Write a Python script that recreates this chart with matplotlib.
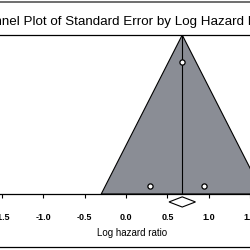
import matplotlib
matplotlib.use("Agg")
import matplotlib.pyplot as plt
from matplotlib.lines import Line2D

plt.rcParams['font.family'] = ['Liberation Sans', 'DejaVu Sans']

# study estimates
log_hr = [0.29, 0.94, 0.68]
std_err = [0.475, 0.475, 0.085]

# pooled estimate and its 95% CI
pooled = 0.68
pooled_lo = 0.52
pooled_hi = 0.84

se_max = 0.5
xticks = [-1.5, -1.0, -0.5, 0.0, 0.5, 1.0, 1.5]
xtick_labels = ["-1.5", "-1.0", "-0.5", "0.0", "0.5", "1.0", "1.5"]

fig = plt.figure(figsize=(2.5, 2.5), dpi=100)
ax = fig.add_axes([0, 0.224, 1, 0.636])

# funnel
ax.fill([pooled - 1.96 * se_max, pooled, pooled + 1.96 * se_max],
        [se_max, 0, se_max], facecolor='#8a8d95', edgecolor='black', lw=0.8)
ax.plot([pooled, pooled], [0, se_max], color='black', lw=0.8)

ax.scatter(log_hr, std_err, s=14, facecolor='white', edgecolor='black',
           linewidth=0.9, zorder=3)

# pooled diamond below the axis
dy = 0.016
ax.fill([pooled_lo, pooled, pooled_hi, pooled],
        [se_max + 0.025, se_max + 0.025 - dy, se_max + 0.025, se_max + 0.025 + dy],
        facecolor='white', edgecolor='black', lw=0.8, clip_on=False, zorder=4)

ax.set_xlim(-1.525, 1.477)
ax.set_ylim(se_max, 0)
ax.set_yticks([])
ax.set_xticks(xticks)
ax.set_xticklabels(xtick_labels, fontsize=6.5, fontweight='bold')
ax.tick_params(axis='x', direction='out', length=3, width=0.8, pad=11)
for s in ['left', 'right', 'top']:
    ax.spines[s].set_visible(False)
ax.spines['bottom'].set_linewidth(0.9)

fig.text(132 / 250, 1 - 233 / 250, "Log hazard ratio", ha='center', va='center',
         fontsize=7)

fig.text(-21 / 250, 1 - 22 / 250, "Funnel Plot of Standard Error by Log Hazard Ratio",
         ha='left', va='center', fontsize=9.6)

# title box and bottom border
fig.add_artist(Line2D([0, 1], [1 - 2 / 250] * 2, color='#555555', lw=1.2))
fig.add_artist(Line2D([0, 1], [1 - 34.5 / 250] * 2, color='black', lw=0.9))
fig.add_artist(Line2D([0, 1], [1 - 247 / 250] * 2, color='black', lw=0.9))

fig.savefig("out.png", dpi=100)
